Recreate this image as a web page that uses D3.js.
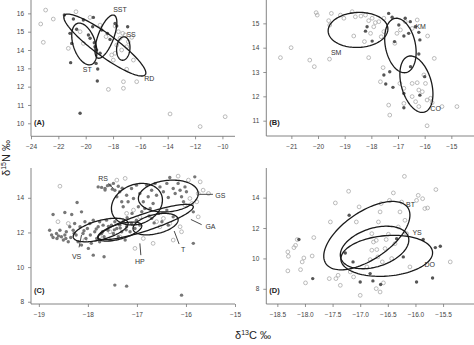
<!DOCTYPE html>
<html><head><meta charset="utf-8">
<script src="https://cdn.jsdelivr.net/npm/d3@7"></script>
<style>body{margin:0;background:#fff}svg{display:block;font-family:"Liberation Sans",Arial,sans-serif}</style>
</head><body><svg id="c" width="474" height="345"></svg>
<script>
// ---------- DATA ----------
const panelNames = ["(A)", "(B)", "(C)", "(D)"];
const xTicksA = [-24,-22,-20,-18,-16,-14,-12,-10], yTicksA = [10,11,12,13,14,15,16];
const xTicksB = [-21,-20,-19,-18,-17,-16,-15], yTicksB = [11,12,13,14,15];
const xTicksC = [-19,-18,-17,-16,-15], yTicksC = [8,10,12,14];
const xTicksD = [-18.5,-18.0,-17.5,-17.0,-16.5,-16.0,-15.5], yTicksD = [8,10,12,14];

const filledA = [[-21.56,15.91],[-20.9,15.69],[-21.15,14.91],[-21.02,14.36],[-21.1,13.31],[-20.66,15.13],[-20.17,15.64],[-19.8,14.82],[-19.68,14.64],[-19.49,15.27],[-19.37,14.4],[-19.32,14.18],[-19.2,14.0],[-19.24,13.27],[-19.12,12.96],[-19.15,12.31],[-19.44,15.78],[-18.83,15.09],[-18.41,14.91],[-18.22,14.58],[-20.41,10.55],[-16.93,15.27],[-17.85,15.45],[-17.73,15.31],[-18.95,13.82]];
const openA = [[-22.93,16.18],[-23.29,15.42],[-22.37,15.69],[-23.1,14.42],[-21.27,14.09],[-20.71,16.09],[-20.41,15.0],[-20.17,14.36],[-19.68,15.78],[-18.95,15.36],[-18.51,14.73],[-18.1,13.73],[-17.98,13.45],[-17.85,15.31],[-17.61,15.0],[-17.49,14.64],[-17.29,14.91],[-17.0,14.18],[-17.12,14.82],[-16.88,14.45],[-16.63,14.69],[-16.51,13.45],[-17.0,12.95],[-17.24,12.27],[-16.27,12.27],[-18.34,11.85],[-17.24,11.91],[-13.83,10.51],[-11.63,9.82],[-9.8,10.36],[-17.73,14.27],[-17.37,14.0],[-17.85,13.82]];
// ellipses: [label, meanX, meanY, sdX-extent, sdY-extent, correlation]
const ellipsesA = [["RD",-18.6,14.27,3.0,1.69,-0.9],["ST",-20.1,14.33,0.92,1.14,-0.4],["SST",-18.52,14.73,0.8,1.18,0.65],["SS",-17.25,14.08,0.49,0.64,0.1]];
const labelsA = [["SST",-17.49,16.2],["SS",-16.68,14.8],["ST",-19.88,12.9],["RD",-15.35,12.42]];

const filledB = [[-18.16,14.86],[-18.22,14.68],[-17.97,14.27],[-17.35,15.41],[-17.22,15.25],[-16.97,14.93],[-16.78,14.48],[-16.73,15.21],[-16.54,15.07],[-16.6,14.59],[-16.35,14.86],[-16.22,14.63],[-16.18,14.32],[-16.22,13.74],[-17.13,14.25],[-17.53,12.88],[-17.46,12.51],[-17.31,13.01],[-17.19,12.37],[-16.78,12.12],[-16.78,11.53],[-16.0,12.81],[-16.18,12.05],[-16.53,13.22]];
const openB = [[-20.07,15.44],[-20.03,15.34],[-19.5,15.41],[-19.6,15.11],[-19.56,14.93],[-19.16,15.34],[-19.03,15.21],[-18.72,15.48],[-18.6,15.27],[-18.39,15.3],[-18.22,15.34],[-18.1,15.11],[-17.97,15.21],[-17.85,15.03],[-17.72,15.07],[-17.53,15.21],[-17.91,14.86],[-18.03,14.59],[-18.26,14.25],[-18.66,14.48],[-17.53,14.66],[-17.63,14.45],[-21.41,13.59],[-21.01,14.0],[-20.31,13.49],[-20.14,13.22],[-19.57,13.53],[-18.1,13.59],[-17.56,13.18],[-17.66,12.6],[-17.35,11.64],[-17.31,11.23],[-17.04,14.59],[-16.91,14.73],[-16.73,15.07],[-16.47,14.79],[-16.28,15.14],[-15.89,14.48],[-15.64,13.56],[-16.93,12.53],[-16.78,12.33],[-16.47,12.53],[-16.28,12.56],[-16.22,12.26],[-16.09,12.19],[-16.03,12.88],[-15.97,12.53],[-16.47,11.99],[-16.34,11.78],[-16.22,11.58],[-15.91,11.85],[-15.78,11.92],[-15.72,11.74],[-15.35,11.58],[-14.79,11.58],[-15.91,10.79],[-16.78,11.71],[-17.12,14.18]];
const ellipsesB = [["SM",-18.5,14.73,1.12,0.72,0.05],["KM",-16.91,14.09,0.59,1.12,-0.25],["CO",-16.31,12.5,0.62,1.16,-0.35]];
const labelsB = [["SM",-19.32,13.77],["KM",-16.15,14.86],["CO",-15.59,11.47]];

const filledC = [[-18.71,13.04],[-18.47,13.15],[-18.33,13.04],[-18.22,13.73],[-18.13,13.19],[-18.78,12.13],[-18.74,11.85],[-18.71,11.71],[-18.64,11.94],[-18.63,11.65],[-18.57,12.13],[-18.54,11.75],[-18.5,11.56],[-18.47,11.85],[-18.44,12.04],[-18.4,11.46],[-18.37,12.33],[-18.35,11.71],[-18.3,12.13],[-18.27,12.52],[-18.24,11.85],[-18.2,11.46],[-18.16,12.33],[-18.13,11.27],[-18.1,11.94],[-18.06,12.62],[-18.04,11.65],[-18.01,12.23],[-17.99,11.08],[-17.96,12.52],[-17.93,11.37],[-17.89,12.71],[-17.89,10.69],[-17.86,12.04],[-17.82,11.65],[-17.79,12.33],[-17.76,12.62],[-17.76,11.46],[-17.72,11.94],[-17.69,12.42],[-17.67,10.6],[-17.67,11.75],[-17.62,12.71],[-17.59,12.13],[-17.55,11.56],[-17.52,12.42],[-17.48,11.94],[-17.45,12.62],[-17.41,12.23],[-17.38,11.75],[-17.35,12.42],[-17.31,12.04],[-17.28,12.62],[-17.24,11.56],[-17.21,12.33],[-17.14,12.04],[-17.11,12.52],[-17.04,12.23],[-17.01,12.71],[-16.94,12.42],
 [-17.79,14.63],[-17.72,14.6],[-17.65,14.54],[-17.55,14.73],[-17.48,14.83],[-17.45,14.44],[-17.38,14.67],[-17.35,14.35],[-17.41,14.06],[-17.31,13.77],[-17.28,13.48],[-17.21,14.15],[-17.18,13.77],[-17.11,14.54],[-17.07,13.96],[-17.01,14.73],[-16.97,13.48],[-16.94,14.25],[-16.87,13.77],[-16.8,14.73],[-16.77,14.06],[-16.73,13.38],[-16.7,14.44],[-16.67,13.67],[-16.63,14.83],[-16.6,14.15],[-16.53,14.63],[-16.46,14.35],[-16.39,14.83],[-16.36,14.02],[-16.33,15.17],[-16.26,14.54],[-16.22,14.25],[-16.16,14.83],[-16.12,14.44],[-16.09,14.06],[-16.02,14.63],[-15.99,14.35],[-15.82,15.21],[-16.05,13.77],[-15.85,13.19],[-15.85,11.37],[-16.09,8.38],[-17.45,8.96],[-17.21,8.9],[-16.84,13.38],[-16.7,12.81],[-16.56,13.1],[-16.49,12.62],[-16.39,13.29],[-16.36,12.42],[-16.26,12.9],
 [-18.6,11.8],[-18.45,11.65],[-18.28,11.95],[-18.08,12.1],[-17.95,11.85],[-17.83,12.2],[-17.7,12.05],[-17.58,12.35],[-17.46,12.15],[-17.34,12.25],[-17.22,12.15],[-17.5,14.5],[-17.6,14.7],[-17.65,14.45],[-17.3,14.55],[-16.9,13.2],[-16.75,12.95],[-16.65,12.55],[-17.1,13.1],[-17.2,12.85]];
const openC = [[-18.57,14.67],[-18.61,12.62],[-18.4,12.52],[-18.06,11.56],[-17.41,15.02],[-17.24,15.12],[-17.04,11.08],[-17.21,13.1],[-17.07,13.29],[-16.94,12.9],[-16.87,11.65],[-16.67,11.37],[-16.6,12.62],[-16.53,12.33],[-16.46,12.81],[-16.33,12.52],[-16.26,11.56],[-16.16,15.25],[-16.02,13.58],[-15.95,15.02],[-15.92,13.96],[-15.88,13.67],[-15.78,13.77],[-15.71,14.92],[-15.75,14.25],[-15.65,14.44],[-15.54,14.25],[-15.75,12.9],[-16.12,12.33],[-16.09,12.04],[-17.76,11.75],[-17.55,12.04],[-17.35,11.75]];
const ellipsesC = [["RS",-17.0,13.63,0.52,1.2,0.2],["GS",-16.36,14.1,0.61,0.92,0.15],["GA",-16.82,12.6,0.97,1.02,0.86],["T",-16.62,12.48,0.46,0.62,0.4],["VS",-17.74,12.14,0.56,0.68,0.55],["HP",-17.35,12.05,0.45,0.55,0.6]];
const labelsC = [["RS",-17.69,15.06],["GS",-15.3,14.1],["GA",-15.5,12.33],["T",-16.06,11.0],["HP",-16.94,10.31],["VS",-18.23,10.6]];
const leadersC = [[-17.59,14.83,-17.48,14.54],[-15.73,14.2,-15.45,14.2],[-15.9,12.75,-15.68,12.45],[-16.24,12.08,-16.14,11.33],[-16.94,11.37,-16.92,10.69],[-18.13,11.85,-18.18,11.14]];

const filledD = [[-18.11,11.24],[-17.86,8.67],[-17.2,12.84],[-17.27,10.36],[-17.13,9.77],[-17.0,8.45],[-16.77,8.52],[-16.63,8.28],[-16.34,11.3],[-16.22,10.1],[-15.98,8.45],[-15.86,11.24],[-15.64,10.71],[-15.55,10.8],[-15.69,8.71],[-16.82,9.0]];
const openD = [[-18.31,10.43],[-18.3,10.14],[-18.31,9.18],[-18.2,10.71],[-18.17,10.86],[-18.14,11.24],[-18.05,9.77],[-18.02,10.03],[-17.99,8.39],[-18.08,9.26],[-17.84,11.37],[-17.87,10.16],[-17.56,8.67],[-17.44,8.67],[-17.4,8.89],[-17.36,8.23],[-17.54,12.4],[-17.45,13.65],[-17.21,14.42],[-17.07,12.4],[-17.02,13.39],[-17.0,7.57],[-16.82,9.92],[-16.79,10.54],[-16.76,11.08],[-16.71,11.19],[-16.7,10.58],[-16.68,10.1],[-16.67,12.4],[-16.64,13.06],[-16.62,13.61],[-16.6,9.77],[-16.71,8.01],[-16.64,7.79],[-16.58,8.39],[-16.55,10.65],[-16.53,11.24],[-16.49,11.59],[-16.47,13.82],[-16.43,9.99],[-16.4,14.31],[-16.37,10.97],[-16.31,12.07],[-16.28,13.06],[-16.25,13.71],[-16.2,15.4],[-16.19,12.51],[-16.16,11.63],[-16.1,9.44],[-15.98,13.82],[-15.95,14.15],[-15.87,13.93],[-15.83,13.28],[-15.78,13.32],[-15.63,14.53],[-15.37,9.77],[-17.18,9.11],[-16.88,9.44],[-16.79,11.63],[-17.12,8.78]];
const ellipsesD = [["BT",-16.88,11.5,0.78,2.25,0.6],["YS",-16.74,10.72,0.62,1.4,0.35],["DO",-16.52,10.17,0.83,1.35,0.15]];
const labelsD = [["BT",-16.09,13.49],["YS",-15.97,11.67],["DO",-15.74,9.55]];

// ---------- LAYOUT ----------
const panels = [
  {name:panelNames[0], xd:[-24,-9.08], yd:[9.29,16.73], xr:[31,235], yr:[136.3,0], xt:xTicksA, yt:yTicksA, fmt:d3.format("d"), filled:filledA, open:openA, ell:ellipsesA, lab:labelsA, lead:[], fc:"#555"},
  {name:panelNames[1], xd:[-21.94,-14.15], yd:[10.37,15.96], xr:[266.3,474], yr:[136,0], xt:xTicksB, yt:yTicksB, fmt:d3.format("d"), filled:filledB, open:openB, ell:ellipsesB, lab:labelsB, lead:[], fc:"#555"},
  {name:panelNames[2], xd:[-19.16,-15.0], yd:[7.87,15.72], xr:[31,235], yr:[304,168], xt:xTicksC, yt:yTicksC, fmt:d3.format("d"), filled:filledC, open:openC, ell:ellipsesC, lab:labelsC, lead:leadersC, fc:"#777"},
  {name:panelNames[3], xd:[-18.7,-14.94], yd:[7.0,15.95], xr:[266.3,474], yr:[304,168], xt:xTicksD, yt:yTicksD, fmt:d3.format(".1f"), filled:filledD, open:openD, ell:ellipsesD, lab:labelsD, lead:[], fc:"#555"}
];

const svg = d3.select("#c");
panels.forEach(p => {
  const x = d3.scaleLinear().domain(p.xd).range(p.xr);
  const y = d3.scaleLinear().domain(p.yd).range(p.yr);
  const g = svg.append("g");
  // axes (L-shaped)
  const xa = g.append("g").attr("transform",`translate(0,${p.yr[0]})`)
    .call(d3.axisBottom(x).tickValues(p.xt).tickFormat(p.fmt).tickSize(3).tickPadding(5));
  const ya = g.append("g").attr("transform",`translate(${p.xr[0]},0)`)
    .call(d3.axisLeft(y).tickValues(p.yt).tickFormat(d3.format("d")).tickSize(3).tickPadding(4));
  [xa,ya].forEach(a => {
    a.select(".domain").attr("stroke","#777").attr("stroke-width",0.9).attr("d",null);
    a.selectAll(".tick line").attr("stroke","#777").attr("stroke-width",0.8);
    a.selectAll(".tick text").attr("fill","#444").style("font-size","6.5px");
  });
  xa.select(".domain").attr("d",`M${p.xr[0]},0H${p.xr[1]}`);
  ya.select(".domain").attr("d",`M0,${p.yr[0]}V${p.yr[1]}`);
  // points
  g.selectAll(".o").data(p.open).join("circle").attr("cx",d=>x(d[0])).attr("cy",d=>y(d[1])).attr("r",1.9)
    .attr("fill","none").attr("stroke","#aaa").attr("stroke-width",0.8);
  g.selectAll(".f").data(p.filled).join("circle").attr("cx",d=>x(d[0])).attr("cy",d=>y(d[1])).attr("r",1.7)
    .attr("fill",p.fc);
  // ellipses
  const line = d3.line().x(d=>x(d[0])).y(d=>y(d[1])).curve(d3.curveLinearClosed);
  p.ell.forEach(e => {
    const [, mx, my, sx, sy, r] = e;
    const pts = d3.range(0, 2*Math.PI, Math.PI/60).map(t => [mx + sx*Math.cos(t), my + sy*(r*Math.cos(t) + Math.sqrt(1-r*r)*Math.sin(t))]);
    g.append("path").attr("d", line(pts)).attr("fill","none").attr("stroke","#1a1a1a").attr("stroke-width",1.3);
  });
  // leader lines
  p.lead.forEach(l => g.append("line").attr("x1",x(l[0])).attr("y1",y(l[1])).attr("x2",x(l[2])).attr("y2",y(l[3]))
    .attr("stroke","#333").attr("stroke-width",0.9));
  // labels
  p.lab.forEach(l => g.append("text").attr("x",x(l[1])).attr("y",y(l[2])).attr("text-anchor","middle").attr("dominant-baseline","middle")
    .attr("fill","#333").style("font-size","7px").text(l[0]));
  // panel name
  g.append("text").attr("x",p.xr[0]+3).attr("y",p.yr[0]-11).attr("fill","#222").style("font-size","7.5px").style("font-weight","bold").text(p.name);
});

// axis titles
const xt = svg.append("text").attr("x",253).attr("y",339).attr("text-anchor","middle").attr("fill","#222").style("font-size","11px");
xt.append("tspan").text("δ");
xt.append("tspan").attr("dy",-4).style("font-size","7px").text("13");
xt.append("tspan").attr("dy",4).text("C ‰");
const yt = svg.append("text").attr("transform","translate(10,158) rotate(-90)").attr("text-anchor","middle").attr("fill","#222").style("font-size","11px");
yt.append("tspan").text("δ");
yt.append("tspan").attr("dy",-4).style("font-size","7px").text("15");
yt.append("tspan").attr("dy",4).text("N ‰");
</script></body></html>
